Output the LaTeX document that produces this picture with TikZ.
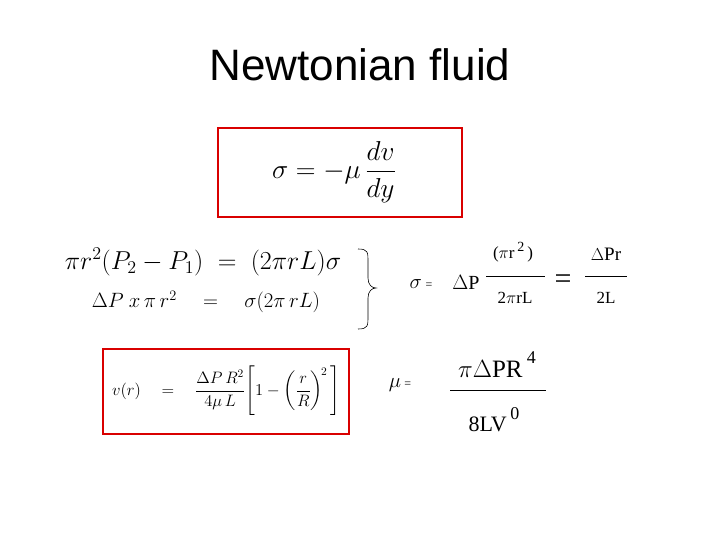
\documentclass[tikz,border=0pt]{standalone}
\usepackage{fontspec}
\usepackage{amsmath}
\setmainfont{Liberation Serif}
\newfontfamily\titlefont{Liberation Sans}
\begin{document}
\begin{tikzpicture}[x=1pt,y=-1pt,
  eq/.style={inner sep=0pt,anchor=center},
  redbox/.style={draw=red!85!black,line width=2.6pt}]
\useasboundingbox (0,0) rectangle (720,540);
\node[eq] (title) at (360,65) {\titlefont\fontsize{44}{50}\selectfont Newtonian fluid};
\draw[redbox] (218,128) rectangle (462,217);
\node[eq,scale=1.1] (e1) at (334,172) {\fontsize{24}{28}\selectfont $\sigma=-\mu\,\dfrac{dv}{dy}$};
\node[eq,scale=1.25] (e2) at (203,262) {\fontsize{20}{24}\selectfont $\pi r^2(P_2-P_1)\;=\;(2\pi rL)\sigma$};
\node[eq,scale=1.2] (e3) at (206,302) {\fontsize{17}{20}\selectfont $\Delta P\ x\,\pi\, r^2\quad=\quad\sigma(2\pi\, rL)$};
\draw[line width=0.6pt] (358,249) .. controls (368,249) and (368,252) .. (368,262) -- (368,278)
  .. controls (368,285) and (372,288) .. (376,288)
  .. controls (372,288) and (368,291) .. (368,298) -- (368,316)
  .. controls (368,326) and (368,329) .. (358,329);
\node[eq] (s1) at (421,284) {\fontsize{22}{26}\selectfont $\sigma$\,\fontsize{12}{14}\selectfont =};
\node[eq] (dp) at (466,282) {\fontsize{20}{24}\selectfont $\Delta$P};
\draw[line width=0.7pt] (486,276) -- (545,276);
\node[eq] (n1) at (513,252) {\fontsize{17}{20}\selectfont ($\pi$r\raisebox{7pt}{\,\fontsize{14}{16}\selectfont 2}\,)};
\node[eq] (d1) at (515,298) {\fontsize{17}{20}\selectfont 2$\pi$rL};
\node[eq] (eq2) at (563,282) {\fontsize{30}{32}\selectfont =};
\draw[line width=0.7pt] (585,276) -- (627,276);
\node[eq] (n2) at (606,254) {\fontsize{19}{22}\selectfont $\Delta$Pr};
\node[eq] (d2) at (606,298) {\fontsize{17}{20}\selectfont 2L};
\draw[redbox] (103,349) rectangle (349,434);
\node[eq,scale=1.15] (v) at (226,391) {\fontsize{14}{17}\selectfont $v(r)\quad=\quad\dfrac{\Delta P\,R^2}{4\mu\,L}\Biggl[1-\biggl(\dfrac{r}{R}\biggr)^{\!2}\,\Biggr]$};
\node[eq] (mu) at (400,385) {\fontsize{20}{24}\selectfont $\mu$\,\fontsize{12}{14}\selectfont =};
\draw[line width=0.7pt] (450,390) -- (546,390);
\node[eq] (n3) at (497,365) {\fontsize{25}{28}\selectfont $\pi\Delta$PR\raisebox{14pt}{\,\fontsize{18}{20}\selectfont 4}};
\node[eq] (d3) at (494,420) {\fontsize{22}{26}\selectfont 8LV\raisebox{12pt}{\,\fontsize{18}{20}\selectfont 0}};
\end{tikzpicture}
\end{document}
